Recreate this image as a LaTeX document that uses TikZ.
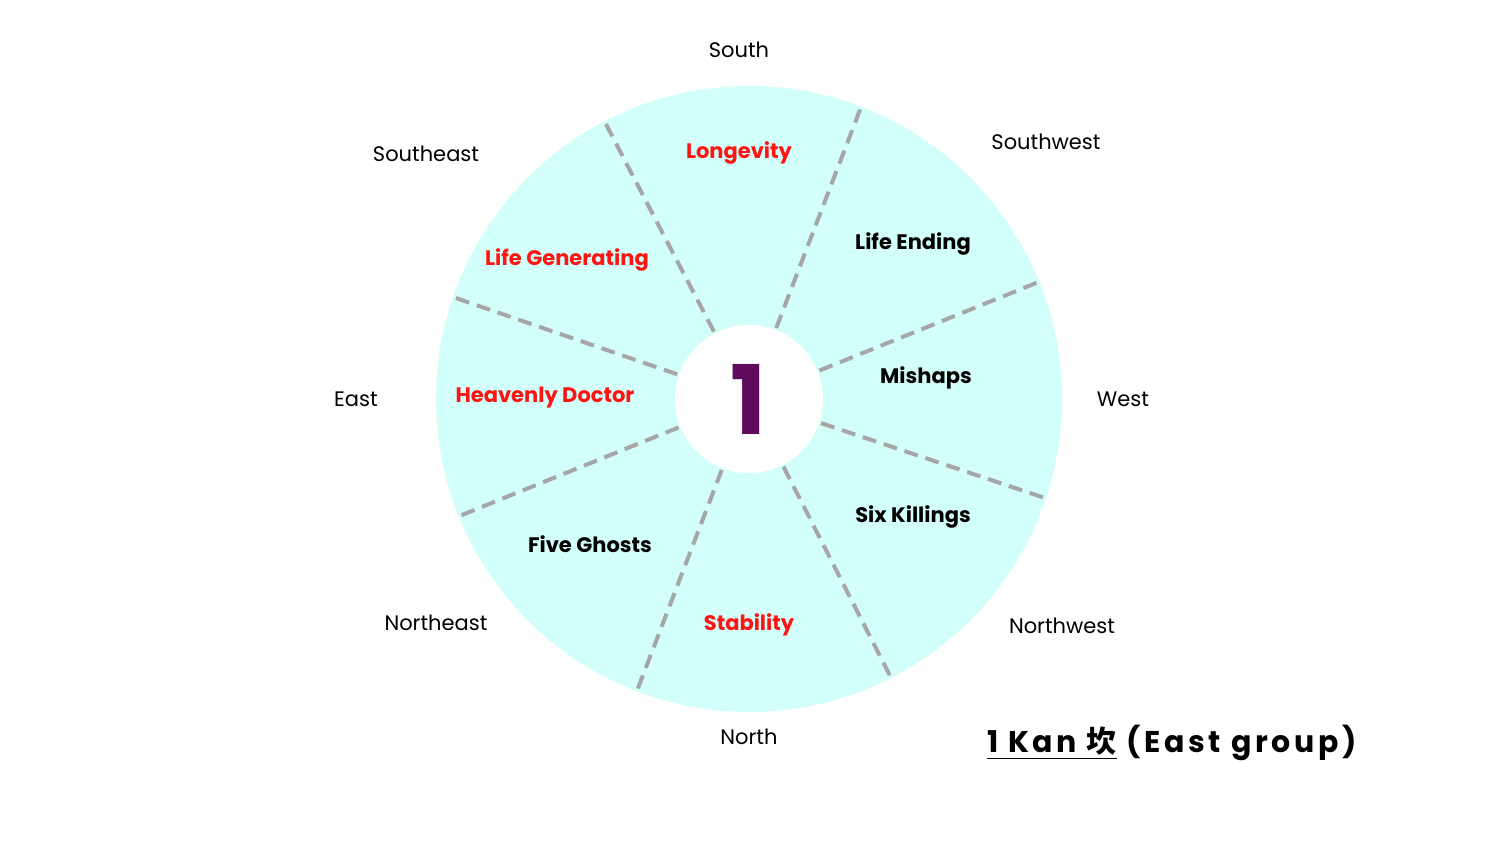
\documentclass[tikz,border=0pt]{standalone}
\usetikzlibrary{calc}
\usepackage{fontspec}
\setmainfont{Poppins}
\newfontfamily\cjk{Noto Sans CJK SC}
\definecolor{fillc}{HTML}{D2FFF9}
\definecolor{redc}{HTML}{FF1414}
\definecolor{purp}{HTML}{5E0C5B}
\definecolor{dash}{HTML}{A6A6A6}
\begin{document}
\begin{tikzpicture}[x=0.5pt,y=-0.5pt,
  dir/.style={font=\fontsize{10.5}{12}\selectfont},
  lab/.style={font=\bfseries\fontsize{10.5}{12}\selectfont},
  good/.style={lab,text=redc},
  sep/.style={draw=dash,line width=2pt,dash pattern=on 7pt off 4pt}]
\useasboundingbox (0,0) rectangle (1500,844);
\coordinate (c) at (749,399);
\fill[fillc] (c) circle[radius=313];
\fill[white] (c) circle[radius=74];
\foreach \a in {117.5,69,22,-18.5,-63,-111,-158,161}
  \draw[sep] ($(c)+(-\a:76)$) -- ($(c)+(-\a:313)$);
\node[font=\bfseries\fontsize{48}{50}\selectfont,text=purp] (one) at (749,399) {1};
\node[dir] (s) at (739,50) {South};
\node[dir] (sw) at (1046,142) {Southwest};
\node[dir] (se) at (426,154) {Southeast};
\node[dir] (e) at (356,399) {East};
\node[dir] (w) at (1123,399) {West};
\node[dir] (ne) at (436,623) {Northeast};
\node[dir] (nw) at (1062,626) {Northwest};
\node[dir] (n) at (749,737) {North};
\node[good] (lg) at (739,153) {Longevity};
\node[lab] (le) at (913,244) {Life Ending};
\node[good] (lgen) at (567,260) {Life Generating};
\node[lab] (mi) at (926,378) {Mishaps};
\node[good] (hd) at (545,398) {Heavenly Doctor};
\node[lab] (sk) at (913,517) {Six Killings};
\node[lab] (fg) at (590,544) {Five Ghosts};
\node[good] (st) at (749,625) {Stability};
\node[anchor=west,font=\bfseries\fontsize{15}{17}\selectfont] (t) at (980,743)
  {\addfontfeature{LetterSpace=12}\underline{1 Kan {\cjk 坎}} (East group)};
\end{tikzpicture}
\end{document}
